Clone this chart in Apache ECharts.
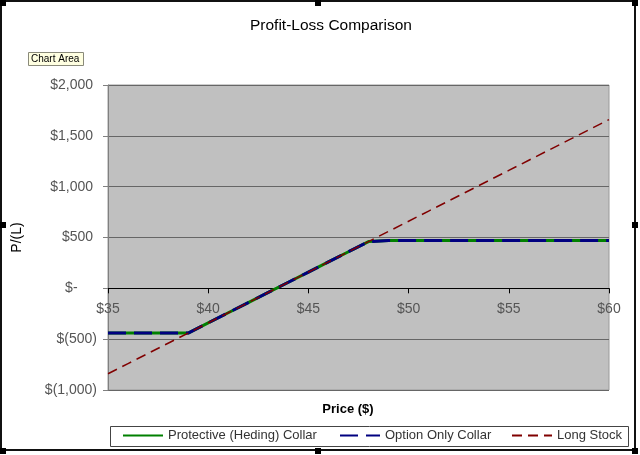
<!DOCTYPE html>
<html>
<head>
<meta charset="utf-8">
<script src="https://cdn.jsdelivr.net/npm/echarts@6/dist/echarts.min.js"></script>
<style>
html,body{margin:0;padding:0;background:#fff;}
#c{width:640px;height:455px;}
</style>
</head>
<body>
<div id="c"></div>
<script>
// ---- data ----
var prices = [35,36,37,38,39,40,41,42,43,44,45,46,47,48,49,50,51,52,53,54,55,56,57,58,59,60];
var protectiveCollar = [-440,-440,-440,-440,-440,-340,-240,-140,-40,60,160,260,360,460,470,470,470,470,470,470,470,470,470,470,470,470];
var optionOnlyCollar = [-440,-440,-440,-440,-440,-340,-240,-140,-40,60,160,260,360,460,470,470,470,470,470,470,470,470,470,470,470,470];
var longStock = [-840,-740,-640,-540,-440,-340,-240,-140,-40,60,160,260,360,460,560,660,760,860,960,1060,1160,1260,1360,1460,1560,1660];
var seriesNames = ['Protective (Heding) Collar','Option Only Collar','Long Stock'];

function pairs(xs, ys){ return xs.map(function(x,i){ return [x, ys[i]]; }); }
function fmtY(v){
  var a = Math.abs(v).toString().replace(/\B(?=(\d{3})+(?!\d))/g, ',');
  if (v === 0) return '$-\u00a0\u00a0\u00a0\u00a0\u00a0';
  if (v < 0) return '$(' + a + ')';
  return '$' + a + '\u00a0';
}

var FONT = 'Liberation Sans, Arial, sans-serif';
var chart = echarts.init(document.getElementById('c'), null, {renderer:'canvas'});

var handles = [[0,0],[315,0],[632,0],[0,222],[632,222],[0,448],[315,448],[632,448]].map(function(p){
  return {type:'rect', shape:{x:p[0], y:p[1], width:6, height:6}, style:{fill:'#000'}, z:100};
});

var GRID_TOP = 85, GRID_BOTTOM = 65, YMIN = -1000, YMAX = 2000;
var plotH = 455 - GRID_TOP - GRID_BOTTOM;
var zeroOffset = -plotH * (0 - YMIN) / (YMAX - YMIN);

var legendCommon = {padding:0, itemWidth:40, itemHeight:12, itemGap:4, itemStyle:{opacity:0},
  textStyle:{fontFamily:FONT, fontSize:13, color:'#333'}};

chart.setOption({
  animation:false,
  backgroundColor:'#fff',
  title:{
    text:'Profit-Loss Comparison', left:245, top:13,
    textStyle:{fontFamily:FONT, fontSize:15.5, fontWeight:'normal', color:'#000'}
  },
  grid:{left:108, right:31, top:GRID_TOP, bottom:GRID_BOTTOM, show:true, backgroundColor:'#c0c0c0', borderColor:'#9a9a9a', borderWidth:1},
  legend:[
    Object.assign({data:[seriesNames[0]], left:122, top:429}, legendCommon),
    Object.assign({data:[seriesNames[1]], left:339, top:429}, legendCommon),
    Object.assign({data:[seriesNames[2]], left:511, top:429}, legendCommon)
  ],
  xAxis:{
    type:'value', min:35, max:60, interval:5, position:'bottom', offset:zeroOffset,
    axisLine:{show:true, onZero:false, lineStyle:{color:'#000', width:1}},
    axisTick:{show:true, length:5, lineStyle:{color:'#000'}},
    axisLabel:{margin:14, fontFamily:FONT, fontSize:14, color:'#555', formatter:function(v){return '$'+v;}},
    splitLine:{show:false}
  },
  yAxis:{
    type:'value', min:YMIN, max:YMAX, interval:500,
    name:'P/(L)', nameLocation:'middle', nameGap:84, nameRotate:90,
    nameTextStyle:{fontFamily:FONT, fontSize:14, color:'#000'},
    axisLine:{show:true, lineStyle:{color:'#808080'}},
    axisTick:{show:true, length:5, lineStyle:{color:'#808080'}},
    axisLabel:{margin:11, fontFamily:FONT, fontSize:14, color:'#555', formatter:fmtY},
    splitLine:{show:true, lineStyle:{color:'#666', width:1}}
  },
  graphic:[
    {type:'rect', shape:{x:1, y:1, width:634, height:449}, style:{fill:'none', stroke:'#111', lineWidth:2}, z:90},
    {type:'rect', shape:{x:28.5, y:52.5, width:55, height:13}, style:{fill:'#ffffe1', stroke:'#8a8a7a', lineWidth:1}, z:95},
    {type:'text', x:31, y:54, style:{text:'Chart Area', fontFamily:FONT, fontSize:10, fill:'#000'}, z:96},
    {type:'text', x:348, y:409, style:{text:'Price ($)', fontFamily:FONT, fontSize:13, fontWeight:'bold', fill:'#000', align:'center', verticalAlign:'middle'}, z:96},
    {type:'rect', shape:{x:110.5, y:426.5, width:518, height:20}, style:{fill:'none', stroke:'#444', lineWidth:1}, z:95}
  ].concat(handles),
  series:[
    {name:seriesNames[0], type:'line', data:pairs(prices, protectiveCollar), symbol:'none',
     lineStyle:{color:'#008000', width:3, type:'solid'}, itemStyle:{color:'#008000'}, z:3},
    {name:seriesNames[1], type:'line', data:pairs(prices, optionOnlyCollar), symbol:'none',
     lineStyle:{color:'#000080', width:3, type:[18,8]}, itemStyle:{color:'#000080'}, z:4},
    {name:seriesNames[2], type:'line', data:pairs(prices, longStock), symbol:'none',
     lineStyle:{color:'#800000', width:1.5, type:[10,6]}, itemStyle:{color:'#800000'}, z:5}
  ]
});
</script>
</body>
</html>
